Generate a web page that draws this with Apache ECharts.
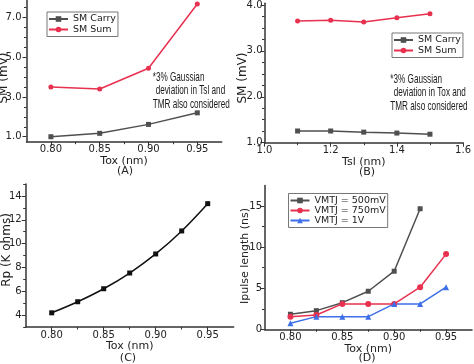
<!DOCTYPE html>
<html><head><meta charset="utf-8">
<script src="https://cdn.jsdelivr.net/npm/echarts@6/dist/echarts.min.js"></script>
<style>html,body{margin:0;padding:0;background:#fff}#c{width:474px;height:364px}</style>
</head><body><div id="c"></div>
<script>
// ---- data ----
const toxA = [0.80, 0.85, 0.90, 0.95];
const smCarryA = [1.0, 1.17, 1.62, 2.2];
const smSumA = [3.5, 3.4, 4.44, 7.67];
const tslB = [1.1, 1.2, 1.3, 1.4, 1.5];
const smCarryB = [1.255, 1.255, 1.23, 1.21, 1.185];
const smSumB = [3.65, 3.67, 3.63, 3.72, 3.81];
const toxC = [0.80, 0.825, 0.85, 0.875, 0.90, 0.925, 0.95];
const rpC = [4.19, 5.12, 6.21, 7.53, 9.13, 11.06, 13.35];
const toxD = [0.80, 0.825, 0.85, 0.875, 0.90, 0.925, 0.95];
const v500 = [1.83, 2.27, 3.24, 4.63, 7.07, 14.67];
const v750 = [1.54, 1.74, 3.09, 3.09, 3.09, 5.12, 9.15];
const v1 = [0.73, 1.54, 1.54, 1.54, 3.09, 3.09, 5.12];
// tick labels
const toxTicks = [0.80, 0.85, 0.90, 0.95];
const toxMinor = [0.825, 0.875, 0.925];
const yTicksA = [1, 3, 5, 7];
const yMinorA = [1.5, 2, 2.5, 3.5, 4, 4.5, 5.5, 6, 6.5, 7.5];
const xTicksB = [1.0, 1.2, 1.4, 1.6];
const xMinorB = [1.1, 1.3, 1.5];
const yTicksB = [1, 2, 3, 4];
const yMinorB = [1.25, 1.5, 1.75, 2.25, 2.5, 2.75, 3.25, 3.5, 3.75];
const yTicksC = [4, 6, 8, 10, 12, 14];
const yMinorC = [3, 5, 7, 9, 11, 13, 15];
const yTicksD = [0, 5, 10, 15];
const yMinorD = [2.5, 7.5, 12.5];

const SANS = '"DejaVu Sans", sans-serif';
const AX = '#333';

function pair(isX, grid, min, max, majors, minors, fmt, margin, extra) {
  const main = Object.assign({
    type: 'value', gridIndex: grid, min: min, max: max,
    position: isX ? 'bottom' : 'left',
    axisLine: {show: true, onZero: false, lineStyle: {color: AX, width: 1.5}},
    axisTick: {show: true, inside: false, length: 4, customValues: majors, lineStyle: {color: AX, width: 1}},
    axisLabel: {customValues: majors, formatter: fmt, margin: margin, fontSize: 10, color: '#222', fontFamily: SANS},
    splitLine: {show: false}
  }, extra || {});
  const minor = {
    type: 'value', gridIndex: grid, min: min, max: max,
    position: isX ? 'bottom' : 'left',
    axisLine: {show: false, onZero: false},
    axisTick: {show: true, inside: false, length: 2.5, customValues: minors, lineStyle: {color: AX, width: 1}},
    axisLabel: {show: false},
    splitLine: {show: false}
  };
  return [main, minor];
}
const f1 = v => v.toFixed(1), f2 = v => v.toFixed(2), f0 = v => String(Math.round(v));
const xName = (n, gap) => ({name: n, nameLocation: 'middle', nameGap: gap, nameTextStyle: {fontSize: 11, color: '#222', fontFamily: SANS}});

const xa = pair(true, 0, 0.775, 0.975, toxTicks, toxMinor, f2, 3, xName('Tox (nm)', 12));
const xb = pair(true, 1, 1.0, 1.6, xTicksB, xMinorB, f1, 3, xName('Tsl (nm)', 10.5));
const xc = pair(true, 2, 0.775, 0.975, toxTicks, toxMinor, f2, 3, xName('Tox (nm)', 13));
const xd = pair(true, 3, 0.775, 0.975, toxTicks, toxMinor, f2, 3, xName('Tox (nm)', 11));
const ya = pair(false, 0, 0.75, 7.87, yTicksA, yMinorA, f1, 5);
const yb = pair(false, 1, 1.0, 4.036, yTicksB, yMinorB, f1, 2);
const yc = pair(false, 2, 3, 15, yTicksC, yMinorC, f0, 4);
const yd = pair(false, 3, 0, 17.5, yTicksD, yMinorD, f0, 2.5);

const zip = (xs, ys) => ys.map((y, i) => [xs[i], y]);
function line(name, xi, xs, ys, color, symbol, size, smooth) {
  return {
    type: 'line', name: name, xAxisIndex: xi, yAxisIndex: xi, data: zip(xs, ys),
    symbol: symbol, symbolSize: size, smooth: smooth || false,
    lineStyle: {color: color, width: 1.5}, itemStyle: {color: color},
    emphasis: {disabled: true}, silent: true
  };
}
const GRAY = '#4f4f4f', RED = '#e8304f', BLUE = '#3d6fe8';
const legendBase = {orient: 'vertical', itemWidth: 19, itemHeight: 7, itemGap: 0.5,
  padding: [2, 2, 2, 1], borderColor: '#777', borderWidth: 1, backgroundColor: '#fff',
  textStyle: {fontSize: 9.5, lineHeight: 10, color: '#222', fontFamily: SANS}, selectedMode: false};

function txt(x, y, s, size, family, extra) {
  return Object.assign({type: 'text', x: x, y: y, silent: true,
    style: {text: s, fill: '#222', fontSize: size, fontFamily: family, textAlign: 'center', textVerticalAlign: 'middle'}}, extra || {});
}
const ANNF = '"Liberation Sans", Arial, sans-serif';
const ann = (x, y, s) => {
  const t = txt(x, y, s, 13.5, ANNF, {scaleX: 0.605});
  t.style.textAlign = 'left';
  t.style.fill = '#1a1a1a';
  return t;
};
const yname = (x, y, s, fs) => txt(x, y, s, fs, SANS, {rotation: Math.PI / 2});

const chart = echarts.init(document.getElementById('c'), null, {renderer: 'canvas'});
chart.setOption({
  animation: false,
  grid: [
    {left: 26.5, top: 0, width: 195.2, height: 141.7},
    {left: 264.5, top: 0, width: 204, height: 142.7},
    {left: 25.7, top: 184, width: 208, height: 143},
    {left: 264.5, top: 185.5, width: 207.5, height: 143.8}
  ],
  xAxis: [xa[0], xb[0], xc[0], xd[0], xa[1], xb[1], xc[1], xd[1]],
  yAxis: [ya[0], yb[0], yc[0], yd[0], ya[1], yb[1], yc[1], yd[1]],
  legend: [
    Object.assign({}, legendBase, {left: 47, top: 12, data: ['SM Carry', 'SM Sum']}),
    Object.assign({}, legendBase, {left: 392, top: 33, data: ['SM Carry', 'SM Sum']}),
    Object.assign({}, legendBase, {left: 288.5, top: 193.5, itemGap: 0, data: ['VMTJ = 500mV', 'VMTJ = 750mV', 'VMTJ = 1V']})
  ],
  series: [
    line('SM Carry', 0, toxA, smCarryA, GRAY, 'rect', 5),
    line('SM Sum', 0, toxA, smSumA, RED, 'circle', 5),
    line('SM Carry', 1, tslB, smCarryB, GRAY, 'rect', 5),
    line('SM Sum', 1, tslB, smSumB, RED, 'circle', 5),
    line('Rp', 2, toxC, rpC, '#111', 'rect', 5, 0.35),
    line('VMTJ = 500mV', 3, toxD, v500, GRAY, 'rect', 5),
    line('VMTJ = 750mV', 3, toxD, v750, RED, 'circle', 6),
    line('VMTJ = 1V', 3, toxD, v1, BLUE, 'triangle', 6)
  ],
  graphic: [
    yname(3.5, 78, 'SM (mV)', 12),
    yname(243, 78, 'SM (mV)', 12),
    yname(7, 250, 'Rp (K ohms)', 12),
    yname(245, 256, 'Ipulse length (ns)', 11),
    txt(125, 171, '(A)', 11, SANS),
    txt(367, 172, '(B)', 11, SANS),
    txt(128, 358, '(C)', 11, SANS),
    txt(367, 358, '(D)', 11, SANS),
    ann(152.7, 77.3, '*3% Gaussian'),
    ann(155.7, 90.7, 'deviation in Tsl and'),
    ann(152.7, 104.7, 'TMR also considered'),
    ann(390.3, 79, '*3% Gaussian'),
    ann(393.7, 92.3, 'deviation in Tox and'),
    ann(390.3, 106, 'TMR also considered')
  ]
});
</script></body></html>
